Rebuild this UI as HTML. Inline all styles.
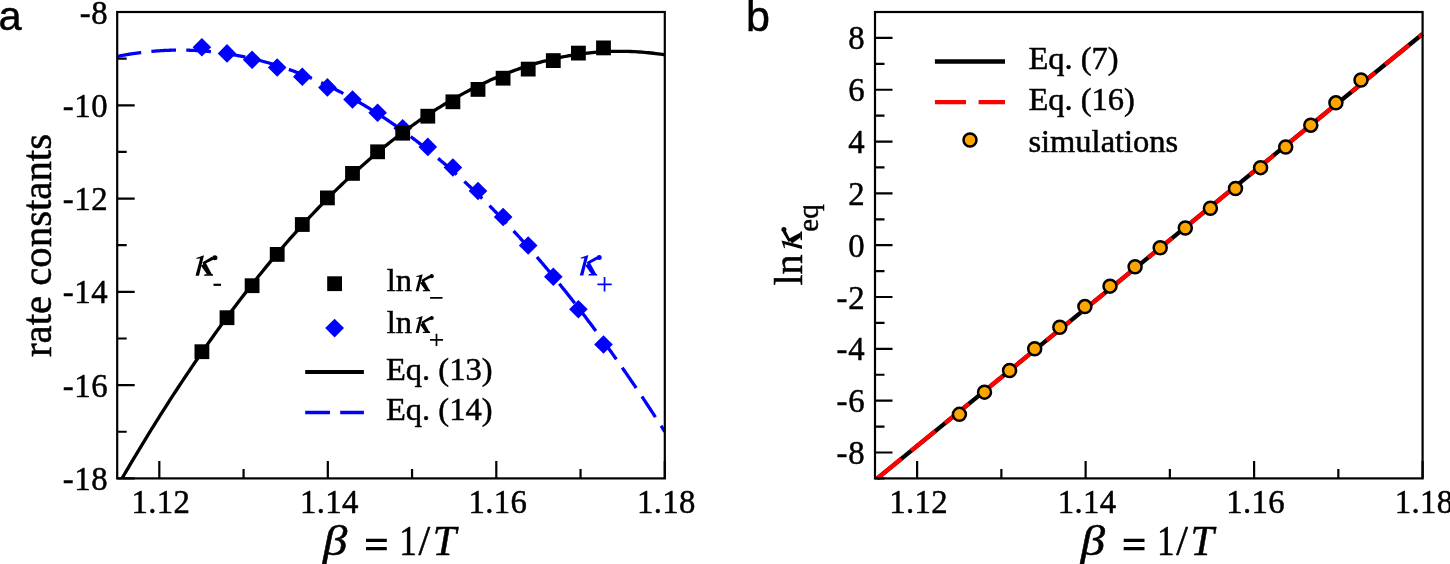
<!DOCTYPE html>
<html><head><meta charset="utf-8"><style>
html,body{margin:0;padding:0;background:#fff;width:1450px;height:564px;overflow:hidden;}
svg{display:block;will-change:transform;}
text{stroke:#000;stroke-width:0.5px;}
</style></head><body>
<svg width="1450" height="564" viewBox="0 0 1450 564">
<defs><g id="kap">
<path d="M0.5 0L4.0 0L9.0 -20.5L1.2 -17.9L1.5 -17.1L5.1 -17.4Z"/>
<path d="M7.3 -13.4L17.2 -19.2L18.8 -16.3L8.6 -11.2Z"/>
<circle cx="19.9" cy="-18.1" r="2.5"/>
<path d="M6.0 -10.0L10.6 -13.2L17.0 -1.3L12.2 -1.3Z"/>
<path d="M8.8 0L18.1 0L17.7 -1.7L9.8 -1.5Z"/>
</g></defs>
<rect width="1450" height="564" fill="#fff"/>
<text x="-1.4" y="30.4" font-family="Liberation Sans, sans-serif" font-size="41.5">a</text>
<text x="746" y="30.5" font-family="Liberation Sans, sans-serif" font-size="43">b</text>
<path d="M117.2 56.43 L118.11 56.25 L119.03 56.07 L119.94 55.89 L120.86 55.71 L121.77 55.54 L122.69 55.37 L123.6 55.2 L124.51 55.04 L125.43 54.87 L126.34 54.71 L127.26 54.56 L128.17 54.4 L129.08 54.25 L130 54.1 L130.91 53.96 L131.83 53.81 L132.74 53.67 L133.66 53.54 L134.57 53.4 L135.48 53.27 L136.4 53.14 L137.31 53.01 L138.23 52.89 L139.14 52.76 L140.05 52.65 L140.97 52.53 L141.88 52.42 L142.8 52.31 L143.71 52.2 L144.63 52.09 L145.54 51.99 L146.45 51.89 L147.37 51.79 L148.28 51.7 L149.2 51.61 L150.11 51.52 L151.03 51.43 L151.94 51.35 L152.85 51.27 L153.77 51.19 L154.68 51.11 L155.6 51.04 L156.51 50.97 L157.42 50.9 L158.34 50.84 L159.25 50.78 L160.17 50.72 L161.08 50.66 L162 50.61 L162.91 50.56 L163.82 50.51 L164.74 50.46 L165.65 50.42 L166.57 50.38 L167.48 50.34 L168.39 50.31 L169.31 50.27 L170.22 50.24 L171.14 50.22 L172.05 50.19 L172.97 50.17 L173.88 50.15 L174.79 50.14 L175.71 50.12 L176.62 50.11 L177.54 50.11 L178.45 50.1 L179.36 50.1 L180.28 50.1 L181.19 50.1 L182.11 50.11 L183.02 50.12 L183.94 50.13 L184.85 50.14 L185.76 50.16 L186.68 50.18 L187.59 50.2 L188.51 50.22 L189.42 50.25 L190.34 50.28 L191.25 50.31 L192.16 50.35 L193.08 50.39 L193.99 50.43 L194.91 50.47 L195.82 50.52 L196.73 50.57 L197.65 50.62 L198.56 50.68 L199.48 50.73 L200.39 50.79 L201.31 50.86 L202.22 50.92 L203.13 50.99 L204.05 51.06 L204.96 51.13 L205.88 51.21 L206.79 51.29 L207.7 51.37 L208.62 51.45 L209.53 51.54 L210.45 51.63 L211.36 51.72 L212.28 51.82 L213.19 51.92 L214.1 52.02 L215.02 52.12 L215.93 52.23 L216.85 52.34 L217.76 52.45 L218.68 52.56 L219.59 52.68 L220.5 52.8 L221.42 52.92 L222.33 53.05 L223.25 53.17 L224.16 53.3 L225.07 53.44 L225.99 53.57 L226.9 53.71 L227.82 53.85 L228.73 54 L229.65 54.14 L230.56 54.29 L231.47 54.45 L232.39 54.6 L233.3 54.76 L234.22 54.92 L235.13 55.08 L236.04 55.25 L236.96 55.42 L237.87 55.59 L238.79 55.76 L239.7 55.94 L240.62 56.12 L241.53 56.3 L242.44 56.48 L243.36 56.67 L244.27 56.86 L245.19 57.05 L246.1 57.25 L247.02 57.45 L247.93 57.65 L248.84 57.85 L249.76 58.06 L250.67 58.27 L251.59 58.48 L252.5 58.69 L253.41 58.91 L254.33 59.13 L255.24 59.35 L256.16 59.58 L257.07 59.81 L257.99 60.04 L258.9 60.27 L259.81 60.51 L260.73 60.75 L261.64 60.99 L262.56 61.23 L263.47 61.48 L264.38 61.73 L265.3 61.98 L266.21 62.24 L267.13 62.49 L268.04 62.75 L268.96 63.02 L269.87 63.28 L270.78 63.55 L271.7 63.82 L272.61 64.1 L273.53 64.37 L274.44 64.65 L275.35 64.94 L276.27 65.22 L277.18 65.51 L278.1 65.8 L279.01 66.09 L279.93 66.39 L280.84 66.69 L281.75 66.99 L282.67 67.29 L283.58 67.6 L284.5 67.91 L285.41 68.22 L286.33 68.54 L287.24 68.85 L288.15 69.17 L289.07 69.5 L289.98 69.82 L290.9 70.15 L291.81 70.48 L292.72 70.81 L293.64 71.15 L294.55 71.49 L295.47 71.83 L296.38 72.18 L297.3 72.52 L298.21 72.87 L299.12 73.23 L300.04 73.58 L300.95 73.94 L301.87 74.3 L302.78 74.66 L303.69 75.03 L304.61 75.4 L305.52 75.77 L306.44 76.15 L307.35 76.52 L308.27 76.9 L309.18 77.29 L310.09 77.67 L311.01 78.06 L311.92 78.45 L312.84 78.84 L313.75 79.24 L314.67 79.64 L315.58 80.04 L316.49 80.44 L317.41 80.85 L318.32 81.26 L319.24 81.67 L320.15 82.09 L321.06 82.5 L321.98 82.93 L322.89 83.35 L323.81 83.77 L324.72 84.2 L325.64 84.63 L326.55 85.07 L327.46 85.51 L328.38 85.94 L329.29 86.39 L330.21 86.83 L331.12 87.28 L332.03 87.73 L332.95 88.18 L333.86 88.64 L334.78 89.1 L335.69 89.56 L336.61 90.02 L337.52 90.49 L338.43 90.96 L339.35 91.43 L340.26 91.9 L341.18 92.38 L342.09 92.86 L343.01 93.34 L343.92 93.83 L344.83 94.32 L345.75 94.81 L346.66 95.3 L347.58 95.8 L348.49 96.3 L349.4 96.8 L350.32 97.3 L351.23 97.81 L352.15 98.32 L353.06 98.83 L353.98 99.35 L354.89 99.87 L355.8 100.39 L356.72 100.91 L357.63 101.44 L358.55 101.97 L359.46 102.5 L360.37 103.03 L361.29 103.57 L362.2 104.11 L363.12 104.65 L364.03 105.2 L364.95 105.74 L365.86 106.3 L366.77 106.85 L367.69 107.4 L368.6 107.96 L369.52 108.52 L370.43 109.09 L371.34 109.66 L372.26 110.23 L373.17 110.8 L374.09 111.37 L375 111.95 L375.92 112.53 L376.83 113.11 L377.74 113.7 L378.66 114.29 L379.57 114.88 L380.49 115.47 L381.4 116.07 L382.32 116.67 L383.23 117.27 L384.14 117.88 L385.06 118.48 L385.97 119.09 L386.89 119.71 L387.8 120.32 L388.71 120.94 L389.63 121.56 L390.54 122.19 L391.46 122.81 L392.37 123.44 L393.29 124.07 L394.2 124.71 L395.11 125.34 L396.03 125.98 L396.94 126.63 L397.86 127.27 L398.77 127.92 L399.68 128.57 L400.6 129.23 L401.51 129.88 L402.43 130.54 L403.34 131.2 L404.26 131.87 L405.17 132.53 L406.08 133.2 L407 133.88 L407.91 134.55 L408.83 135.23 L409.74 135.91 L410.66 136.59 L411.57 137.28 L412.48 137.97 L413.4 138.66 L414.31 139.35 L415.23 140.05 L416.14 140.75 L417.05 141.45 L417.97 142.16 L418.88 142.87 L419.8 143.58 L420.71 144.29 L421.63 145.01 L422.54 145.72 L423.45 146.45 L424.37 147.17 L425.28 147.9 L426.2 148.63 L427.11 149.36 L428.02 150.09 L428.94 150.83 L429.85 151.57 L430.77 152.31 L431.68 153.06 L432.6 153.81 L433.51 154.56 L434.42 155.31 L435.34 156.07 L436.25 156.83 L437.17 157.59 L438.08 158.36 L438.99 159.12 L439.91 159.89 L440.82 160.67 L441.74 161.44 L442.65 162.22 L443.57 163 L444.48 163.78 L445.39 164.57 L446.31 165.36 L447.22 166.15 L448.14 166.95 L449.05 167.74 L449.97 168.54 L450.88 169.35 L451.79 170.15 L452.71 170.96 L453.62 171.77 L454.54 172.58 L455.45 173.4 L456.36 174.22 L457.28 175.04 L458.19 175.86 L459.11 176.69 L460.02 177.52 L460.94 178.35 L461.85 179.19 L462.76 180.03 L463.68 180.87 L464.59 181.71 L465.51 182.56 L466.42 183.4 L467.33 184.26 L468.25 185.11 L469.16 185.97 L470.08 186.83 L470.99 187.69 L471.91 188.55 L472.82 189.42 L473.73 190.29 L474.65 191.17 L475.56 192.04 L476.48 192.92 L477.39 193.8 L478.31 194.68 L479.22 195.57 L480.13 196.46 L481.05 197.35 L481.96 198.25 L482.88 199.15 L483.79 200.05 L484.7 200.95 L485.62 201.85 L486.53 202.76 L487.45 203.67 L488.36 204.59 L489.28 205.5 L490.19 206.42 L491.1 207.34 L492.02 208.27 L492.93 209.2 L493.85 210.13 L494.76 211.06 L495.67 211.99 L496.59 212.93 L497.5 213.87 L498.42 214.82 L499.33 215.76 L500.25 216.71 L501.16 217.66 L502.07 218.62 L502.99 219.58 L503.9 220.54 L504.82 221.5 L505.73 222.46 L506.65 223.43 L507.56 224.4 L508.47 225.38 L509.39 226.35 L510.3 227.33 L511.22 228.31 L512.13 229.3 L513.04 230.28 L513.96 231.27 L514.87 232.26 L515.79 233.26 L516.7 234.26 L517.62 235.26 L518.53 236.26 L519.44 237.27 L520.36 238.28 L521.27 239.29 L522.19 240.3 L523.1 241.32 L524.01 242.34 L524.93 243.36 L525.84 244.38 L526.76 245.41 L527.67 246.44 L528.59 247.48 L529.5 248.51 L530.41 249.55 L531.33 250.59 L532.24 251.63 L533.16 252.68 L534.07 253.73 L534.98 254.78 L535.9 255.84 L536.81 256.89 L537.73 257.95 L538.64 259.02 L539.56 260.08 L540.47 261.15 L541.38 262.22 L542.3 263.3 L543.21 264.37 L544.13 265.45 L545.04 266.53 L545.96 267.62 L546.87 268.7 L547.78 269.79 L548.7 270.89 L549.61 271.98 L550.53 273.08 L551.44 274.18 L552.35 275.28 L553.27 276.39 L554.18 277.5 L555.1 278.61 L556.01 279.73 L556.93 280.84 L557.84 281.96 L558.75 283.09 L559.67 284.21 L560.58 285.34 L561.5 286.47 L562.41 287.6 L563.32 288.74 L564.24 289.88 L565.15 291.02 L566.07 292.16 L566.98 293.31 L567.9 294.46 L568.81 295.61 L569.72 296.77 L570.64 297.92 L571.55 299.08 L572.47 300.25 L573.38 301.41 L574.3 302.58 L575.21 303.75 L576.12 304.93 L577.04 306.1 L577.95 307.28 L578.87 308.46 L579.78 309.65 L580.69 310.84 L581.61 312.03 L582.52 313.22 L583.44 314.42 L584.35 315.61 L585.27 316.82 L586.18 318.02 L587.09 319.23 L588.01 320.43 L588.92 321.65 L589.84 322.86 L590.75 324.08 L591.66 325.3 L592.58 326.52 L593.49 327.75 L594.41 328.97 L595.32 330.21 L596.24 331.44 L597.15 332.68 L598.06 333.91 L598.98 335.16 L599.89 336.4 L600.81 337.65 L601.72 338.9 L602.64 340.15 L603.55 341.41 L604.46 342.66 L605.38 343.92 L606.29 345.19 L607.21 346.45 L608.12 347.72 L609.03 348.99 L609.95 350.27 L610.86 351.54 L611.78 352.82 L612.69 354.11 L613.61 355.39 L614.52 356.68 L615.43 357.97 L616.35 359.26 L617.26 360.56 L618.18 361.86 L619.09 363.16 L620 364.46 L620.92 365.77 L621.83 367.08 L622.75 368.39 L623.66 369.71 L624.58 371.02 L625.49 372.34 L626.4 373.67 L627.32 374.99 L628.23 376.32 L629.15 377.65 L630.06 378.99 L630.97 380.32 L631.89 381.66 L632.8 383 L633.72 384.35 L634.63 385.7 L635.55 387.05 L636.46 388.4 L637.37 389.75 L638.29 391.11 L639.2 392.47 L640.12 393.84 L641.03 395.2 L641.95 396.57 L642.86 397.95 L643.77 399.32 L644.69 400.7 L645.6 402.08 L646.52 403.46 L647.43 404.84 L648.34 406.23 L649.26 407.62 L650.17 409.02 L651.09 410.41 L652 411.81 L652.92 413.21 L653.83 414.62 L654.74 416.03 L655.66 417.43 L656.57 418.85 L657.49 420.26 L658.4 421.68 L659.31 423.1 L660.23 424.52 L661.14 425.95 L662.06 427.38 L662.97 428.81 L663.89 430.24 L664.8 431.68" fill="none" stroke="#0000ff" stroke-width="3.3" stroke-dasharray="24.72 10.22" stroke-dashoffset="0.4"/>
<path d="M201.9 37.9L211.2 47.2L201.9 56.5L192.6 47.2Z" fill="#0000ff"/>
<path d="M227 44.1L236.3 53.4L227 62.7L217.7 53.4Z" fill="#0000ff"/>
<path d="M252.1 50.5L261.4 59.8L252.1 69.1L242.8 59.8Z" fill="#0000ff"/>
<path d="M277.2 58.2L286.5 67.5L277.2 76.8L267.9 67.5Z" fill="#0000ff"/>
<path d="M302.3 67.5L311.6 76.8L302.3 86.1L293 76.8Z" fill="#0000ff"/>
<path d="M327.4 78.1L336.7 87.4L327.4 96.7L318.1 87.4Z" fill="#0000ff"/>
<path d="M352.5 90.2L361.8 99.5L352.5 108.8L343.2 99.5Z" fill="#0000ff"/>
<path d="M377.6 103.4L386.9 112.7L377.6 122L368.3 112.7Z" fill="#0000ff"/>
<path d="M402.7 118.9L412 128.2L402.7 137.5L393.4 128.2Z" fill="#0000ff"/>
<path d="M427.8 137.6L437.1 146.9L427.8 156.2L418.5 146.9Z" fill="#0000ff"/>
<path d="M452.9 158.2L462.2 167.5L452.9 176.8L443.6 167.5Z" fill="#0000ff"/>
<path d="M478 181.7L487.3 191L478 200.3L468.7 191Z" fill="#0000ff"/>
<path d="M503.1 207.7L512.4 217L503.1 226.3L493.8 217Z" fill="#0000ff"/>
<path d="M528.2 236.2L537.5 245.5L528.2 254.8L518.9 245.5Z" fill="#0000ff"/>
<path d="M553.3 267.4L562.6 276.7L553.3 286L544 276.7Z" fill="#0000ff"/>
<path d="M578.4 299.9L587.7 309.2L578.4 318.5L569.1 309.2Z" fill="#0000ff"/>
<path d="M603.5 335.2L612.8 344.5L603.5 353.8L594.2 344.5Z" fill="#0000ff"/>
<path d="M122.02 478.4 L124.29 474.51 L126.56 470.64 L128.83 466.79 L131.1 462.95 L133.37 459.14 L135.64 455.34 L137.91 451.56 L140.18 447.79 L142.46 444.05 L144.73 440.32 L147 436.61 L149.27 432.91 L151.54 429.24 L153.81 425.58 L156.08 421.94 L158.35 418.32 L160.62 414.72 L162.9 411.13 L165.17 407.56 L167.44 404.01 L169.71 400.48 L171.98 396.96 L174.25 393.47 L176.52 389.99 L178.79 386.53 L181.06 383.08 L183.34 379.66 L185.61 376.25 L187.88 372.86 L190.15 369.49 L192.42 366.13 L194.69 362.79 L196.96 359.47 L199.23 356.17 L201.5 352.89 L203.77 349.62 L206.05 346.37 L208.32 343.14 L210.59 339.93 L212.86 336.74 L215.13 333.56 L217.4 330.4 L219.67 327.26 L221.94 324.13 L224.21 321.03 L226.49 317.94 L228.76 314.87 L231.03 311.82 L233.3 308.78 L235.57 305.77 L237.84 302.77 L240.11 299.78 L242.38 296.82 L244.65 293.88 L246.92 290.95 L249.2 288.04 L251.47 285.14 L253.74 282.27 L256.01 279.41 L258.28 276.57 L260.55 273.75 L262.82 270.95 L265.09 268.16 L267.36 265.39 L269.64 262.64 L271.91 259.91 L274.18 257.2 L276.45 254.5 L278.72 251.82 L280.99 249.16 L283.26 246.51 L285.53 243.89 L287.8 241.28 L290.07 238.69 L292.35 236.12 L294.62 233.56 L296.89 231.03 L299.16 228.51 L301.43 226.01 L303.7 223.52 L305.97 221.06 L308.24 218.61 L310.51 216.18 L312.79 213.76 L315.06 211.37 L317.33 208.99 L319.6 206.63 L321.87 204.29 L324.14 201.97 L326.41 199.66 L328.68 197.38 L330.95 195.1 L333.23 192.85 L335.5 190.62 L337.77 188.4 L340.04 186.2 L342.31 184.02 L344.58 181.86 L346.85 179.71 L349.12 177.58 L351.39 175.47 L353.66 173.38 L355.94 171.31 L358.21 169.25 L360.48 167.21 L362.75 165.19 L365.02 163.18 L367.29 161.2 L369.56 159.23 L371.83 157.28 L374.1 155.35 L376.38 153.43 L378.65 151.54 L380.92 149.66 L383.19 147.8 L385.46 145.95 L387.73 144.13 L390 142.32 L392.27 140.53 L394.54 138.76 L396.81 137 L399.09 135.26 L401.36 133.55 L403.63 131.84 L405.9 130.16 L408.17 128.49 L410.44 126.85 L412.71 125.22 L414.98 123.6 L417.25 122.01 L419.53 120.43 L421.8 118.87 L424.07 117.33 L426.34 115.81 L428.61 114.3 L430.88 112.82 L433.15 111.35 L435.42 109.89 L437.69 108.46 L439.96 107.04 L442.24 105.64 L444.51 104.26 L446.78 102.9 L449.05 101.55 L451.32 100.22 L453.59 98.91 L455.86 97.62 L458.13 96.35 L460.4 95.09 L462.68 93.85 L464.95 92.63 L467.22 91.43 L469.49 90.24 L471.76 89.07 L474.03 87.92 L476.3 86.79 L478.57 85.68 L480.84 84.58 L483.12 83.5 L485.39 82.44 L487.66 81.4 L489.93 80.37 L492.2 79.36 L494.47 78.37 L496.74 77.4 L499.01 76.45 L501.28 75.51 L503.55 74.59 L505.83 73.69 L508.1 72.8 L510.37 71.94 L512.64 71.09 L514.91 70.26 L517.18 69.45 L519.45 68.65 L521.72 67.88 L523.99 67.12 L526.27 66.38 L528.54 65.65 L530.81 64.95 L533.08 64.26 L535.35 63.59 L537.62 62.94 L539.89 62.3 L542.16 61.69 L544.43 61.09 L546.7 60.51 L548.98 59.94 L551.25 59.4 L553.52 58.87 L555.79 58.36 L558.06 57.87 L560.33 57.39 L562.6 56.94 L564.87 56.5 L567.14 56.08 L569.42 55.67 L571.69 55.29 L573.96 54.92 L576.23 54.57 L578.5 54.24 L580.77 53.92 L583.04 53.63 L585.31 53.35 L587.58 53.09 L589.85 52.84 L592.13 52.62 L594.4 52.41 L596.67 52.22 L598.94 52.05 L601.21 51.89 L603.48 51.76 L605.75 51.64 L608.02 51.54 L610.29 51.46 L612.57 51.39 L614.84 51.34 L617.11 51.31 L619.38 51.3 L621.65 51.31 L623.92 51.33 L626.19 51.37 L628.46 51.43 L630.73 51.51 L633.01 51.6 L635.28 51.71 L637.55 51.84 L639.82 51.99 L642.09 52.16 L644.36 52.34 L646.63 52.54 L648.9 52.76 L651.17 53 L653.44 53.25 L655.72 53.52 L657.99 53.81 L660.26 54.12 L662.53 54.45 L664.8 54.79" fill="none" stroke="#000" stroke-width="3.3" stroke-linejoin="round"/>
<rect x="194.5" y="344.3" width="14.8" height="14.8"/>
<rect x="219.6" y="310.3" width="14.8" height="14.8"/>
<rect x="244.7" y="278.3" width="14.8" height="14.8"/>
<rect x="269.8" y="247" width="14.8" height="14.8"/>
<rect x="294.9" y="217.1" width="14.8" height="14.8"/>
<rect x="320" y="190.5" width="14.8" height="14.8"/>
<rect x="345.1" y="166" width="14.8" height="14.8"/>
<rect x="370.2" y="144.4" width="14.8" height="14.8"/>
<rect x="395.3" y="125.8" width="14.8" height="14.8"/>
<rect x="420.4" y="108.8" width="14.8" height="14.8"/>
<rect x="445.5" y="94.4" width="14.8" height="14.8"/>
<rect x="470.6" y="82" width="14.8" height="14.8"/>
<rect x="495.7" y="70.8" width="14.8" height="14.8"/>
<rect x="520.8" y="61.7" width="14.8" height="14.8"/>
<rect x="545.9" y="53.2" width="14.8" height="14.8"/>
<rect x="571" y="45.7" width="14.8" height="14.8"/>
<rect x="596.1" y="40.5" width="14.8" height="14.8"/>
<rect x="117.2" y="12" width="547.6" height="466.4" fill="none" stroke="#000" stroke-width="2.2"/>
<path d="M117.2 12H134.7M117.2 105.28H134.7M117.2 198.56H134.7M117.2 291.84H134.7M117.2 385.12H134.7M117.2 478.4H134.7M117.2 58.64H126.7M117.2 151.92H126.7M117.2 245.2H126.7M117.2 338.48H126.7M117.2 431.76H126.7M159.32 478.4V460.9M327.82 478.4V460.9M496.31 478.4V460.9M664.8 478.4V460.9M243.57 478.4V468.9M412.06 478.4V468.9M580.55 478.4V468.9" stroke="#000" stroke-width="2.2" fill="none"/>
<g font-family="Liberation Serif, serif" font-size="34.5" text-anchor="end">
<text transform="translate(108.4 23.5) scale(0.95 1)" letter-spacing="0.7">-8</text>
<text transform="translate(108.4 116.78) scale(0.95 1)" letter-spacing="0.7">-10</text>
<text transform="translate(108.4 210.06) scale(0.95 1)" letter-spacing="0.7">-12</text>
<text transform="translate(108.4 303.34) scale(0.95 1)" letter-spacing="0.7">-14</text>
<text transform="translate(108.4 396.62) scale(0.95 1)" letter-spacing="0.7">-16</text>
<text transform="translate(108.4 489.9) scale(0.95 1)" letter-spacing="0.7">-18</text>
</g><g font-family="Liberation Serif, serif" font-size="34.5" text-anchor="middle">
<text transform="translate(160.82 512.6) scale(0.95 1)" letter-spacing="0.4">1.12</text>
<text transform="translate(329.32 512.6) scale(0.95 1)" letter-spacing="0.4">1.14</text>
<text transform="translate(497.81 512.6) scale(0.95 1)" letter-spacing="0.4">1.16</text>
<text transform="translate(666.3 512.6) scale(0.95 1)" letter-spacing="0.4">1.18</text>
</g>
<text font-family="Liberation Serif, serif" font-size="42" font-style="italic" transform="translate(323 555) scale(1.16 1)">&#946;</text>
<path d="M366 538.8h20.8v3.1h-20.8zM366 547.1h20.8v3.1h-20.8z"/>
<text font-family="Liberation Serif, serif" font-size="42" transform="translate(399.2 555) scale(0.84 1)">1</text>
<text font-family="Liberation Serif, serif" font-size="42" y="555"><tspan x="418.5">/</tspan><tspan x="432.7" font-style="italic">T</tspan></text>
<text font-family="Liberation Serif, serif" font-size="42" transform="translate(50.8 245.5) rotate(-90)" text-anchor="middle" textLength="223" lengthAdjust="spacingAndGlyphs">rate constants</text>
<use href="#kap" transform="translate(195 275.8)"/>
<rect x="213.5" y="283.7" width="7.5" height="2.2"/>
<g fill="#0000ff"><use href="#kap" transform="translate(579.3 275.6)"/>
<path d="M597.4 284.3H611.7M604.55 277V291.6" stroke="#0000ff" stroke-width="1.7"/></g>
<rect x="327.2" y="276.3" width="14.8" height="14.8"/>
<path d="M334.6 318.8L344 328.1L334.6 337.4L325.2 328.1Z" fill="#0000ff"/>
<path d="M305.2 371.9H363.9" stroke="#000" stroke-width="4"/>
<path d="M305.2 412.5H363.9" stroke="#0000ff" stroke-width="3.4" stroke-dasharray="24.8 10.2"/>
<g font-family="Liberation Serif, serif" font-size="32.5">
<text x="386.8" y="291.2">ln</text><text x="386.8" y="333">ln</text>
<text x="386" y="380">Eq. (13)</text><text x="386" y="420.2">Eq. (14)</text>
</g>
<use href="#kap" transform="translate(415.2 291.2) scale(0.83)"/>
<use href="#kap" transform="translate(415.2 333) scale(0.83)"/>
<path d="M430.1 297.9H442.5M430 339.8H443M436.5 333.7V345.9" stroke="#000" stroke-width="1.7"/>
<path d="M877.3 478.3L1422.6 34" stroke="#000" stroke-width="4.3"/>
<path d="M877.3 478.3L1422.6 34" stroke="#ff0000" stroke-width="4.3" stroke-dasharray="31 12.66"/>
<circle cx="959.4" cy="414.36" r="6.5" fill="#ffa500" stroke="#000" stroke-width="2.5"/>
<circle cx="984.5" cy="392.14" r="6.5" fill="#ffa500" stroke="#000" stroke-width="2.5"/>
<circle cx="1009.6" cy="370.57" r="6.5" fill="#ffa500" stroke="#000" stroke-width="2.5"/>
<circle cx="1034.7" cy="348.83" r="6.5" fill="#ffa500" stroke="#000" stroke-width="2.5"/>
<circle cx="1059.8" cy="327.29" r="6.5" fill="#ffa500" stroke="#000" stroke-width="2.5"/>
<circle cx="1084.9" cy="306.6" r="6.5" fill="#ffa500" stroke="#000" stroke-width="2.5"/>
<circle cx="1110" cy="286.13" r="6.5" fill="#ffa500" stroke="#000" stroke-width="2.5"/>
<circle cx="1135.1" cy="266.76" r="6.5" fill="#ffa500" stroke="#000" stroke-width="2.5"/>
<circle cx="1160.2" cy="247.69" r="6.5" fill="#ffa500" stroke="#000" stroke-width="2.5"/>
<circle cx="1185.3" cy="228.02" r="6.5" fill="#ffa500" stroke="#000" stroke-width="2.5"/>
<circle cx="1210.4" cy="208.29" r="6.5" fill="#ffa500" stroke="#000" stroke-width="2.5"/>
<circle cx="1235.5" cy="188.57" r="6.5" fill="#ffa500" stroke="#000" stroke-width="2.5"/>
<circle cx="1260.6" cy="167.63" r="6.5" fill="#ffa500" stroke="#000" stroke-width="2.5"/>
<circle cx="1285.7" cy="146.98" r="6.5" fill="#ffa500" stroke="#000" stroke-width="2.5"/>
<circle cx="1310.8" cy="125.15" r="6.5" fill="#ffa500" stroke="#000" stroke-width="2.5"/>
<circle cx="1335.9" cy="102.84" r="6.5" fill="#ffa500" stroke="#000" stroke-width="2.5"/>
<circle cx="1361" cy="79.98" r="6.5" fill="#ffa500" stroke="#000" stroke-width="2.5"/>
<rect x="875" y="12" width="547.6" height="466.4" fill="none" stroke="#000" stroke-width="2.2"/>
<path d="M875 37.91H892.5M875 89.73H892.5M875 141.56H892.5M875 193.38H892.5M875 245.2H892.5M875 297.02H892.5M875 348.84H892.5M875 400.67H892.5M875 452.49H892.5M875 12H884.5M875 63.82H884.5M875 115.64H884.5M875 167.47H884.5M875 219.29H884.5M875 271.11H884.5M875 322.93H884.5M875 374.76H884.5M875 426.58H884.5M875 478.4H884.5M917.12 478.4V460.9M1085.62 478.4V460.9M1254.11 478.4V460.9M1422.6 478.4V460.9M1001.37 478.4V468.9M1169.86 478.4V468.9M1338.35 478.4V468.9" stroke="#000" stroke-width="2.2" fill="none"/>
<g font-family="Liberation Serif, serif" font-size="34.5" text-anchor="end">
<text transform="translate(865.2 49.41) scale(0.95 1)" letter-spacing="0.7">8</text>
<text transform="translate(865.2 101.23) scale(0.95 1)" letter-spacing="0.7">6</text>
<text transform="translate(865.2 153.06) scale(0.95 1)" letter-spacing="0.7">4</text>
<text transform="translate(865.2 204.88) scale(0.95 1)" letter-spacing="0.7">2</text>
<text transform="translate(865.2 256.7) scale(0.95 1)" letter-spacing="0.7">0</text>
<text transform="translate(865.2 308.52) scale(0.95 1)" letter-spacing="0.7">-2</text>
<text transform="translate(865.2 360.34) scale(0.95 1)" letter-spacing="0.7">-4</text>
<text transform="translate(865.2 412.17) scale(0.95 1)" letter-spacing="0.7">-6</text>
<text transform="translate(865.2 463.99) scale(0.95 1)" letter-spacing="0.7">-8</text>
</g><g font-family="Liberation Serif, serif" font-size="34.5" text-anchor="middle">
<text transform="translate(918.62 512.6) scale(0.95 1)" letter-spacing="0.4">1.12</text>
<text transform="translate(1087.12 512.6) scale(0.95 1)" letter-spacing="0.4">1.14</text>
<text transform="translate(1255.61 512.6) scale(0.95 1)" letter-spacing="0.4">1.16</text>
<text transform="translate(1424.1 512.6) scale(0.95 1)" letter-spacing="0.4">1.18</text>
</g>
<text font-family="Liberation Serif, serif" font-size="42" font-style="italic" transform="translate(1080.7 555) scale(1.16 1)">&#946;</text>
<path d="M1123.7 538.8h20.8v3.1h-20.8zM1123.7 547.1h20.8v3.1h-20.8z"/>
<text font-family="Liberation Serif, serif" font-size="42" transform="translate(1156.9 555) scale(0.84 1)">1</text>
<text font-family="Liberation Serif, serif" font-size="42" y="555"><tspan x="1176.2">/</tspan><tspan x="1190.4" font-style="italic">T</tspan></text>
<text font-family="Liberation Serif, serif" font-size="40" transform="translate(802 285.6) rotate(-90)">ln</text>
<use href="#kap" transform="translate(802 249.4) rotate(-90)"/>
<text font-family="Liberation Serif, serif" font-size="29" transform="translate(818.3 231.7) rotate(-90)">eq</text>
<path d="M934.9 61.5H1005" stroke="#000" stroke-width="4.3"/>
<path d="M934.9 102.2H1005" stroke="#ff0000" stroke-width="4.3" stroke-dasharray="31.1 12.6"/>
<circle cx="970" cy="140" r="6.5" fill="#ffa500" stroke="#000" stroke-width="2.5"/>
<g font-family="Liberation Serif, serif" font-size="32.5"><text x="1028.4" y="69.1">Eq. (7)</text><text x="1028.4" y="110.2">Eq. (16)</text><text x="1028.4" y="151.5">simulations</text></g>
</svg>
</body></html>
